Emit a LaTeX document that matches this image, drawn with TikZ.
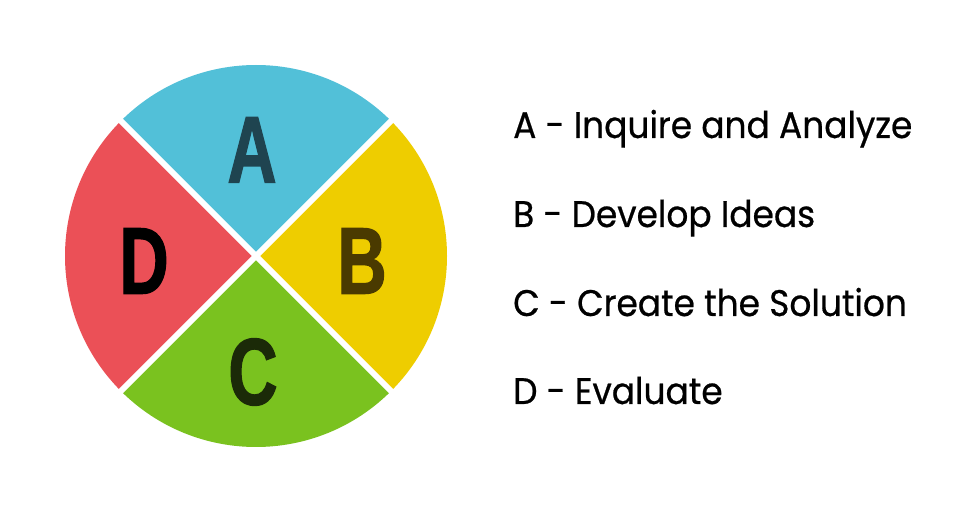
\documentclass[tikz,border=0pt]{standalone}
\usepackage{fontspec}
\setmainfont[FakeStretch=0.93,FakeBold=0.6]{Poppins}
\newfontfamily\stencilfont[FakeStretch=0.72,FakeBold=1.2]{Liberation Sans}
\usetikzlibrary{calc}
\definecolor{segA}{HTML}{52C0D8}
\definecolor{segB}{HTML}{EECD00}
\definecolor{segC}{HTML}{7AC21F}
\definecolor{segD}{HTML}{EB5057}
\definecolor{letA}{HTML}{1F4450}
\definecolor{letB}{HTML}{4A3A00}
\definecolor{letC}{HTML}{1B2A08}
\definecolor{letD}{HTML}{000000}
\tikzset{
  letter/.style={inner sep=0pt, font=\stencilfont\bfseries\fontsize{95}{95}\selectfont},
  item/.style={inner sep=0pt, anchor=base west, font=\fontsize{37}{37}\selectfont}
}

\begin{document}
\begin{tikzpicture}[x=1pt,y=1pt]
			%%%%% START %%%%%
			
			\useasboundingbox[fill=white] (0,0) rectangle (978,512);
			\coordinate (ctr) at (256,256);
			
			\fill[segA] (ctr) -- ($(ctr)+(45:191)$) arc (45:135:191) -- cycle;
			\fill[segD] (ctr) -- ($(ctr)+(135:191)$) arc (135:225:191) -- cycle;
			\fill[segC] (ctr) -- ($(ctr)+(225:191)$) arc (225:315:191) -- cycle;
			\fill[segB] (ctr) -- ($(ctr)+(315:191)$) arc (315:405:191) -- cycle;
			
			\draw[line width=6pt, white] ($(ctr)+(45:195)$) -- ($(ctr)+(225:195)$);
			\draw[line width=6pt, white] ($(ctr)+(135:195)$) -- ($(ctr)+(315:195)$);
			
			\node[letter, color=letA] (la) at (252,362) {A};
			\node[letter, color=letB] (lb) at (362,251) {B};
			\node[letter, color=letC] (lc) at (253,140) {C};
			\node[letter, color=letD] (ld) at (144,251) {D};
			
			\node[item] (ta) at (513,374) {A - Inquire and Analyze};
			\node[item] (tb) at (513,285) {B - Develop Ideas};
			\node[item] (tc) at (513,196) {C - Create the Solution};
			\node[item] (td) at (513,108) {D - Evaluate};
			
			%%%%% END %%%%%
		\end{tikzpicture}
\end{document}
